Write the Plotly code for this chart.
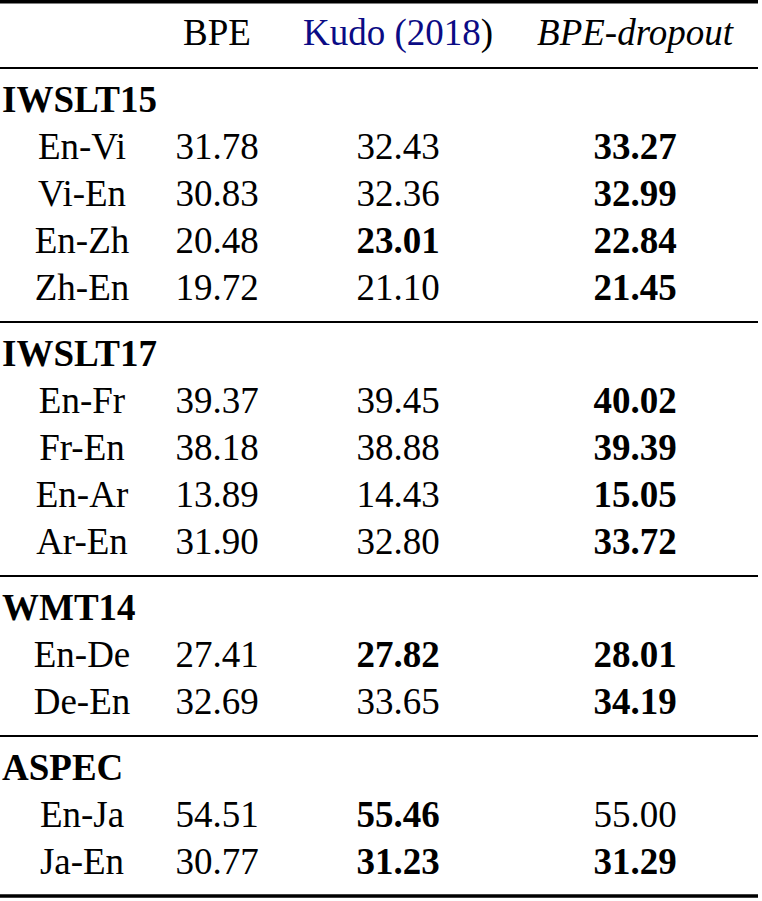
import plotly.graph_objects as go

# ---- data ----
columns = ["BPE", "Kudo (2018)", "BPE-dropout"]
sections = ["IWSLT15", "IWSLT17", "WMT14", "ASPEC"]
section_pairs = [
    ["En-Vi", "Vi-En", "En-Zh", "Zh-En"],
    ["En-Fr", "Fr-En", "En-Ar", "Ar-En"],
    ["En-De", "De-En"],
    ["En-Ja", "Ja-En"],
]
bpe = [31.78, 30.83, 20.48, 19.72, 39.37, 38.18, 13.89, 31.90, 27.41, 32.69, 54.51, 30.77]
kudo = [32.43, 32.36, 23.01, 21.10, 39.45, 38.88, 14.43, 32.80, 27.82, 33.65, 55.46, 31.23]
dropout = [33.27, 32.99, 22.84, 21.45, 40.02, 39.39, 15.05, 33.72, 28.01, 34.19, 55.00, 31.29]
kudo_bold = [0, 0, 1, 0, 0, 0, 0, 0, 1, 0, 1, 1]
dropout_bold = [1, 1, 1, 1, 1, 1, 1, 1, 1, 1, 0, 1]
bpe_bold = [0] * 12

# ---- layout constants (pixels) ----
W, H = 762, 901
FONT = "Liberation Serif"
FS = 37
HEADER_Y = 36
HEAD_RULE = 68
GAP = 33        # rule -> section label, last row -> rule
PITCH = 47      # row pitch
TEXT_DY = 2     # small downward nudge of text relative to row centre
X_LABEL = 82
X_SECTION = 2
X_COLS = [217, 398, 635]
RULE_X0, RULE_X1 = 0, 758
NAVY = "#0b0b85"

# compute row positions
row_y, row_lab, sec_y, rules = [], [], [], [HEAD_RULE]
y = HEAD_RULE
for sec, pairs in zip(sections, section_pairs):
    y += GAP
    sec_y.append(y + TEXT_DY)
    for p in pairs:
        y += PITCH
        row_y.append(y + TEXT_DY)
        row_lab.append(p)
    y += GAP
    rules.append(y)
mid_rules = rules[:-1]
bottom_rule = rules[-1]


def fmt(v, b):
    s = f"{v:.2f}"
    return f"<b>{s}</b>" if b else s


fig = go.Figure()
tf = dict(family=FONT, size=FS, color="black")

# header
header_txt = [
    columns[0],
    f'<span style="color:{NAVY}">Kudo (2018</span>)',
    f"<i>{columns[2]}</i>",
]
fig.add_trace(go.Scatter(x=X_COLS, y=[HEADER_Y] * 3, mode="text", text=header_txt,
                         textposition="middle center", textfont=tf, hoverinfo="skip"))
# section labels
fig.add_trace(go.Scatter(x=[X_SECTION] * len(sections), y=sec_y, mode="text",
                         text=[f"<b>{s}</b>" for s in sections],
                         textposition="middle right", textfont=tf, hoverinfo="skip"))
# pair labels
fig.add_trace(go.Scatter(x=[X_LABEL] * len(row_lab), y=row_y, mode="text", text=row_lab,
                         textposition="middle center", textfont=tf, hoverinfo="skip"))
# values
for xc, vals, bolds in zip(X_COLS, [bpe, kudo, dropout], [bpe_bold, kudo_bold, dropout_bold]):
    fig.add_trace(go.Scatter(x=[xc] * len(vals), y=row_y, mode="text",
                             text=[fmt(v, b) for v, b in zip(vals, bolds)],
                             textposition="middle center", textfont=tf, hoverinfo="skip"))

# rules
fig.add_shape(type="line", x0=RULE_X0, x1=RULE_X1, y0=1.7, y1=1.7, line=dict(color="black", width=3.4))
for r in mid_rules:
    fig.add_shape(type="line", x0=RULE_X0, x1=RULE_X1, y0=r, y1=r, line=dict(color="black", width=1.8))
fig.add_shape(type="line", x0=RULE_X0, x1=RULE_X1, y0=bottom_rule, y1=bottom_rule,
              line=dict(color="black", width=3.6))

fig.update_layout(
    width=W, height=H, margin=dict(l=0, r=0, t=0, b=0),
    paper_bgcolor="white", plot_bgcolor="white", showlegend=False,
    xaxis=dict(range=[0, W], visible=False, fixedrange=True),
    yaxis=dict(range=[H, 0], visible=False, fixedrange=True),
)
fig.write_html("out.html", config={"displayModeBar": False},
               post_script="document.body.style.margin='0';document.body.style.overflow='hidden';")
